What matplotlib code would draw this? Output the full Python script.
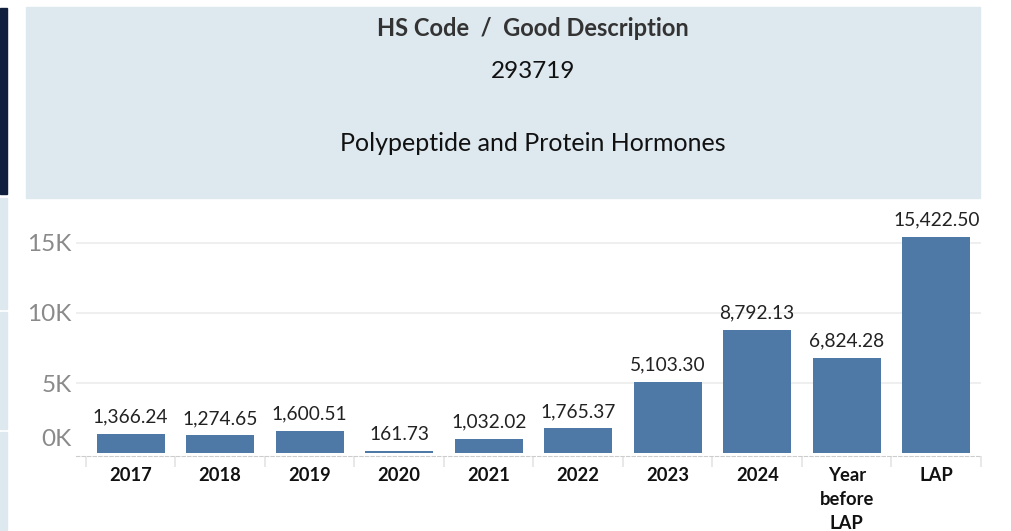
import matplotlib.pyplot as plt
from matplotlib.patches import Rectangle
from matplotlib.ticker import FuncFormatter, FixedLocator
from matplotlib.transforms import ScaledTranslation

plt.rcParams['font.family'] = ['Lato', 'DejaVu Sans']

categories = ['2017', '2018', '2019', '2020', '2021', '2022', '2023', '2024',
              'Year\nbefore\nLAP', 'LAP']
values = [1366.24, 1274.65, 1600.51, 161.73, 1032.02, 1765.37, 5103.30,
          8792.13, 6824.28, 15422.50]
yticks = [0, 5000, 10000, 15000]

W, H = 1012, 531
fig = plt.figure(figsize=(W / 100, H / 100), dpi=100)

def px_rect(x0, y0, x1, y1, color):
    fig.patches.append(Rectangle((x0 / W, 1 - y1 / H), (x1 - x0) / W, (y1 - y0) / H,
                                 transform=fig.transFigure, color=color, zorder=0))

# header panel and left strip
px_rect(26, 7, 980, 198, '#dde8ef')
px_rect(0, 8, 7, 194, '#0f1f3d')
px_rect(0, 198, 7, 309, '#dde8ef')
px_rect(0, 312, 7, 429, '#dde8ef')
px_rect(0, 432, 7, 531, '#dde8ef')

cx = 533 / W
fig.text(cx, 1 - 29 / H, 'HS Code  /  Good Description', ha='center', va='center',
         fontsize=17, fontweight='bold', color='#333333')
fig.text(cx, 1 - 71 / H, '293719', ha='center', va='center', fontsize=17.5, color='#111111')
fig.text(cx, 1 - 144 / H, 'Polypeptide and Protein Hormones', ha='center', va='center',
         fontsize=18, color='#111111')

left, right = 76, 981
ax = fig.add_axes([left / W, 1 - 456 / H, (right - left) / W, (456 - 205) / H])
x = list(range(len(categories)))
bars = ax.bar(x, values, width=0.76, color='#4e79a7', zorder=3)
for xi, v in zip(x, values):
    ax.annotate(f'{v:,.2f}', (xi, v), xytext=(0, 6), textcoords='offset points',
                ha='center', va='bottom', fontsize=13.8, color='#222222')

ax.set_xlim(-0.61, 9.5)
ax.set_ylim(-200, 17700)
ax.set_yticks(yticks)
ax.yaxis.set_major_formatter(FuncFormatter(lambda v, p: f'{int(v / 1000)}K'))
ax.grid(axis='y', color='#eeeeee', linewidth=1.3, zorder=0)
ax.tick_params(axis='y', length=0, labelsize=17.5, labelcolor='#8a8a8a', pad=3)
# the 0K label sits a little above the baseline, the way the original does
zero_tick = ax.yaxis.get_major_ticks()[0]
zero_tick.label1.set_transform(zero_tick.label1.get_transform() +
                               ScaledTranslation(0, 16 / 100, fig.dpi_scale_trans))
zero_tick.gridline.set_visible(False)

ax.set_xticks(x)
ax.set_xticklabels(categories, fontsize=13.2, fontweight='bold', color='#111111',
                   linespacing=1.5, va='top')
ax.tick_params(axis='x', which='major', length=0, pad=8)
ax.xaxis.set_minor_locator(FixedLocator([i - 0.5 for i in range(len(categories) + 1)]))
ax.tick_params(axis='x', which='minor', length=8, color='#e4e4e4', width=1.2)

for s in ['top', 'right', 'left']:
    ax.spines[s].set_visible(False)
ax.spines['bottom'].set_color('#cccccc')
ax.spines['bottom'].set_linestyle((0, (3, 2)))
ax.set_facecolor('none')

fig.savefig('out.png', dpi=100)
